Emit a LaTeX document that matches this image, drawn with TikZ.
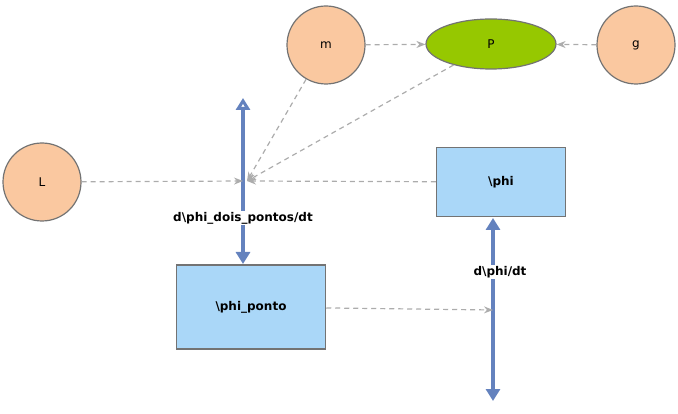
\documentclass[tikz,border=0pt]{standalone}
\usepackage{fontspec}
\setmainfont{DejaVu Sans}
\usetikzlibrary{arrows.meta,shapes.geometric}
\begin{document}
\begin{tikzpicture}[x=1pt,y=-1pt,
  circ/.style={circle,draw=gray!90!black,line width=1.2pt,fill={rgb,255:red,250;green,200;blue,160},minimum size=78pt,inner sep=0pt,font=\fontsize{12}{14}\selectfont},
  box/.style={draw=gray!90!black,line width=1.5pt,fill={rgb,255:red,170;green,215;blue,248},font=\fontsize{12}{14}\selectfont\bfseries,inner sep=0pt},
  dep/.style={draw=gray!65,dashed,line width=1.2pt,dash pattern=on 5pt off 4pt,-{Stealth[length=9pt,width=7pt]}},
  flow/.style={draw={rgb,255:red,100;green,130;blue,190},line width=3.5pt},
  lab/.style={font=\fontsize{12}{14}\selectfont\bfseries,fill=white,inner sep=1pt}]
\useasboundingbox (0,0) rectangle (678,414);
\node[circ] (m) at (326,45) {m};
\node[ellipse,draw=gray!90!black,line width=1.2pt,fill={rgb,255:red,150;green,200;blue,0},minimum width=130pt,minimum height=50pt,font=\fontsize{12}{14}\selectfont] (P) at (491,44) {P};
\node[circ] (g) at (636,45) {g};
\node[circ] (L) at (42,182) {L};
\node[box,minimum width=129pt,minimum height=69pt] (phi) at (501,182) {\textbackslash phi};
\node[box,minimum width=149pt,minimum height=84pt] (phip) at (251,307) {\textbackslash phi\_ponto};
\coordinate (f1a) at (243,98);
\coordinate (f1b) at (243,264);
\coordinate (v1) at (243,181);
\coordinate (t1) at (247,181);
\coordinate (f2a) at (493,218);
\coordinate (f2b) at (493,401);
\coordinate (v2) at (493,310);
\draw[flow,-{Triangle[open,length=12pt,width=14pt,fill=white]}] (v1) -- (f1a);
\draw[flow,-{Triangle[length=12pt,width=14pt]}] (v1) -- (f1b);
\draw[flow,-{Triangle[length=12pt,width=14pt]}] (v2) -- (f2a);
\draw[flow,-{Triangle[length=12pt,width=14pt]}] (v2) -- (f2b);
\node[lab] (l1) at (243,218) {d\textbackslash phi\_dois\_pontos/dt};
\node[lab] (l2) at (500,272) {d\textbackslash phi/dt};
\draw[dep] (m) -- (P);
\draw[dep] (g) -- (P);
\draw[dep] (m) -- (t1);
\draw[dep] (P) -- (t1);
\draw[dep] (L) -- (v1);
\draw[dep] (phi) -- (t1);
\draw[dep] (phip) -- (v2);
\end{tikzpicture}
\end{document}
